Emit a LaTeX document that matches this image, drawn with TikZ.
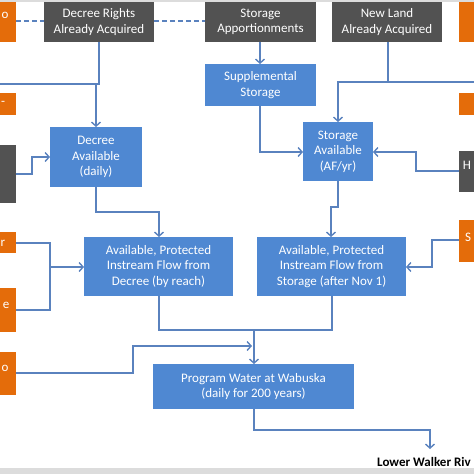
\documentclass[tikz,border=0pt]{standalone}
\usepackage{fontspec}
\setmainfont{Carlito}
\usetikzlibrary{arrows.meta}
\definecolor{bluebox}{HTML}{4F88D2}
\definecolor{grayboxc}{HTML}{525252}
\definecolor{orangebox}{HTML}{E46C0A}
\definecolor{linec}{HTML}{5A82BE}
\definecolor{stripc}{HTML}{DCDCDC}
\tikzset{
  x=1pt,y=-1pt,
  boxbase/.style={inner sep=0pt,outer sep=0pt,align=center,text=white,font=\fontsize{13}{15.5}\selectfont},
  bluebx/.style={boxbase,fill=bluebox},
  graybx/.style={boxbase,fill=grayboxc},
  orangebx/.style={boxbase,fill=orangebox},
  conn/.style={draw=linec,line width=1.4pt},
  arr/.style={conn,-{Straight Barb[length=4pt,width=9pt,line width=1.4pt]}},
  dashconn/.style={draw=linec,line width=1.4pt,dashed,dash pattern=on 5pt off 3pt},
  frag/.style={text=white,font=\fontsize{13}{15}\selectfont,inner sep=0pt}
}
\newcommand{\bx}[7]{% style, name, x1, y1, x2, y2, text
  \node[#1,minimum width={#5-#3},minimum height={#6-#4}] (#2) at ({(#3+#5)/2},{(#4+#6)/2}) {#7};}
\begin{document}
\begin{tikzpicture}
\useasboundingbox (0,0) rectangle (474,474);
\fill[stripc] (0,0) rectangle (474,2);
\fill[stripc] (0,468) rectangle (474,474);
% top row
\bx{orangebx}{oL1}{0}{2}{16}{42}{}
\bx{graybx}{dra}{44}{2}{154}{42}{Decree Rights\\Already Acquired}
\bx{graybx}{sap}{205}{2}{316}{42}{Storage\\Apportionments}
\bx{graybx}{nla}{332}{2}{442}{42}{New Land\\Already Acquired}
\bx{orangebx}{oR1}{459}{2}{474}{42}{}
% left column
\bx{orangebx}{oL2}{0}{93}{16}{115}{}
\bx{graybx}{gL}{0}{145}{16}{203}{}
\bx{orangebx}{oL3}{0}{232}{16}{253}{}
\bx{orangebx}{oL4}{0}{288}{16}{332}{}
\bx{orangebx}{oL5}{0}{352}{16}{395}{}
% right column
\bx{orangebx}{oR2}{459}{93}{474}{115}{}
\bx{graybx}{gR}{459}{151}{474}{192}{}
\bx{orangebx}{oR3}{459}{220}{474}{262}{}
% fragments of cut texts
\node[frag] (f1) at (5,15) {o};
\node[frag] (f2) at (3,103) {-};
\node[frag] (f3) at (3,243) {r};
\node[frag] (f4) at (6,305) {e};
\node[frag] (f5) at (5,368) {o};
\node[frag] (f6) at (467,165) {H};
\node[frag] (f7) at (468,237) {S};
% blue boxes
\bx{bluebx}{sup}{205}{64}{316}{106}{Supplemental\\Storage}
\bx{bluebx}{dav}{50}{127}{142}{187}{Decree\\Available\\(daily)}
\bx{bluebx}{sav}{303}{122}{373}{181}{Storage\\Available\\(AF/yr)}
\bx{bluebx}{pd}{84}{237}{233}{296}{Available, Protected\\Instream Flow from\\Decree (by reach)}
\bx{bluebx}{ps}{257}{237}{406}{296}{Available, Protected\\Instream Flow from\\Storage (after Nov 1)}
\bx{bluebx}{pw}{153}{364}{354}{409}{Program Water at Wabuska\\(daily for 200 years)}
\node[font=\bfseries\fontsize{13}{15}\selectfont,anchor=west,inner sep=0pt] (lwr) at (377,462) {Lower Walker Riv};
% coordinates
\coordinate (jL) at (0,84);
\coordinate (jR) at (474,82);
\coordinate (mj) at (254,330);
\coordinate (lw) at (430,449);
% dashed links
\draw[dashconn] (oL1.east|-0,21) -- (dra.west|-0,21);
\draw[dashconn] (dra.east|-0,21) -- (sap.west|-0,21);
% decree side
\draw[conn] (dra.south-|99,0) -- (99,84) -- (jL);
\draw[arr] (96,84) -- (dav.north-|96,0);
\draw[arr] (gL.east|-0,174) -- (32,174) -- (32,157) -- (dav.west|-0,157);
\draw[arr] (dav.south-|96,0) -- (96,212) -- (159,212) -- (pd.north-|159,0);
\draw[conn] (oL3.east|-0,243) -- (50,243) -- (50,310) -- (oL4.east|-0,310);
\draw[arr] (50,267) -- (pd.west|-0,267);
% storage side
\draw[arr] (sap.south-|260,0) -- (sup.north-|260,0);
\draw[arr] (sup.south-|260,0) -- (260,152) -- (sav.west|-0,152);
\draw[conn] (nla.south-|388,0) -- (388,82);
\draw[arr] (jR) -- (338,82) -- (sav.north-|338,0);
\draw[arr] (gR.west|-0,171) -- (416,171) -- (416,152) -- (sav.east|-0,152);
\draw[arr] (sav.south-|338,0) -- (338,207) -- (331,207) -- (ps.north-|331,0);
\draw[arr] (oR3.west|-0,240) -- (432,240) -- (432,267) -- (ps.east|-0,267);
% merge
\draw[conn] (pd.south-|159,0) -- (159,330) -- (mj);
\draw[conn] (ps.south-|332,0) -- (332,330) -- (mj);
\draw[arr] (mj) -- (pw.north-|mj);
\draw[arr] (oL5.east|-0,373) -- (133,373) -- (133,346) -- (252,346);
\draw[arr] (pw.south-|254,0) -- (254,430) -- (430,430) -- (lw);
\end{tikzpicture}
\end{document}
